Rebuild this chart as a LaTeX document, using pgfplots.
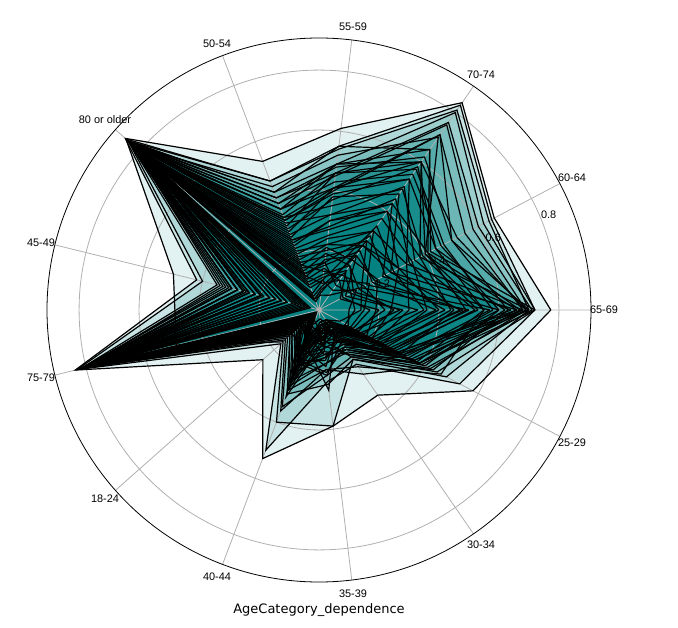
\documentclass[border=0pt]{standalone}
\usepackage{fontspec}
\setmainfont{Liberation Sans}
\newfontfamily\titlefont{DejaVu Sans}
\usepackage{pgfplots}
\usepackage{pgfplotstable}
\pgfplotsset{compat=1.18}
\usepgfplotslibrary{polar}

% grid sits above the fills and below the outlines
\pgfplotsset{layers/radar/.define layer set={axis background,pre main,axis grid,axis ticks,axis lines,main,axis tick labels,axis descriptions,axis foreground}{}}

% one row per polygon, columns follow the spokes counter-clockwise from 65-69, last repeats the first
\pgfplotstableread{
s a0 a1 a2 a3 a4 a5 a6 a7 a8 a9 a10 a11 a12 a13
1 .773 .66 .84 .61 .53 .863 .42 .837 .25 .53 .39 .345 .58 .773
2 .72 .65 .83 .55 .46 .85 .40 .83 .17 .50 .24 .22 .53 .72
3 .70 .64 .81 .54 .46 .86 .50 .49 .16 .40 .39 .20 .48 .70
4 .72 .62 .80 .49 .42 .85 .35 .82 .14 .345 .22 .19 .445 .72
5 .71 .60 .76 .46 .40 .84 .33 .81 .13 .285 .20 .26 .41 .71
6 .69 .58 .75 .45 .38 .84 .30 .82 .12 .25 .18 .17 .38 .69
7 .68 .55 .71 .41 .36 .83 .28 .81 .11 .22 .16 .15 .36 .68
8 .70 .50 .71 .40 .32 .84 .25 .80 .10 .20 .15 .14 .32 .70
9 .66 .41 .65 .55 .42 .85 .32 .82 .10 .19 .22 .13 .30 .66
10 .72 .42 .65 .49 .38 .84 .30 .81 .09 .25 .13 .12 .38 .72
11 .69 .52 .60 .49 .36 .84 .28 .81 .09 .16 .12 .18 .42 .69
12 .62 .40 .60 .46 .34 .83 .26 .80 .08 .31 .11 .11 .38 .62
13 .70 .38 .60 .41 .33 .83 .34 .80 .12 .14 .19 .10 .36 .70
14 .58 .47 .57 .46 .30 .82 .22 .79 .07 .28 .10 .19 .34 .58
15 .68 .33 .53 .39 .32 .82 .30 .80 .07 .12 .27 .09 .31 .68
16 .55 .44 .53 .41 .28 .83 .20 .78 .11 .22 .09 .13 .37 .55
17 .52 .36 .50 .32 .31 .82 .26 .79 .06 .26 .08 .08 .29 .52
18 .66 .27 .47 .38 .26 .81 .17 .80 .05 .10 .15 .16 .35 .66
19 .49 .41 .43 .32 .27 .84 .24 .78 .08 .21 .07 .07 .28 .49
20 .60 .24 .43 .30 .24 .82 .13 .79 .10 .18 .17 .11 .33 .60
21 .44 .38 .40 .27 .25 .80 .28 .78 .04 .24 .06 .14 .26 .44
22 .64 .30 .40 .30 .23 .81 .11 .79 .07 .07 .12 .06 .30 .64
23 .36 .35 .37 .25 .22 .80 .22 .78 .09 .17 .14 .05 .24 .36
24 .57 .18 .32 .22 .21 .81 .20 .80 .03 .20 .05 .12 .32 .57
25 .30 .33 .32 .24 .20 .79 .17 .78 .06 .13 .10 .09 .22 .30
26 .50 .16 .28 .20 .19 .80 .26 .79 .05 .16 .13 .04 .27 .50
27 .24 .30 .26 .22 .18 .79 .13 .78 .08 .11 .04 .10 .20 .24
28 .47 .27 .26 .18 .17 .80 .15 .79 .04 .15 .09 .08 .25 .47
29 .19 .22 .20 .21 .16 .81 .20 .78 .07 .09 .11 .13 .18 .19
30 .42 .25 .30 .16 .15 .80 .11 .79 .03 .19 .08 .07 .23 .42
31 .33 .13 .18 .19 .14 .79 .17 .78 .06 .12 .06 .11 .16 .33
32 .39 .20 .24 .15 .13 .80 .13 .79 .05 .08 .10 .06 .21 .39
33 .22 .17 .14 .13 .16 .79 .24 .78 .04 .14 .05 .09 .14 .22
34 .28 .10 .22 .17 .12 .80 .11 .79 .08 .10 .07 .05 .19 .28
35 .15 .19 .12 .14 .11 .82 .15 .78 .03 .06 .09 .08 .12 .15
36 .25 .15 .18 .12 .10 .80 .08 .79 .05 .11 .04 .04 .17 .25
37 .12 .12 .10 .16 .13 .79 .20 .80 .04 .08 .06 .10 .10 .12
38 .20 .08 .16 .11 .09 .80 .09 .78 .02 .07 .08 .04 .15 .20
39 .10 .14 .08 .10 .08 .81 .13 .79 .06 .05 .03 .07 .11 .10
40 .17 .09 .12 .09 .12 .79 .07 .78 .03 .09 .05 .05 .13 .17
41 .55 .40 .70 .52 .44 .83 .28 .81 .15 .36 .20 .23 .46 .55
42 .63 .50 .62 .48 .40 .85 .31 .80 .13 .30 .25 .20 .43 .63
43 .60 .46 .55 .43 .36 .84 .24 .82 .12 .27 .18 .16 .40 .60
44 .67 .44 .58 .37 .29 .83 .26 .80 .10 .23 .14 .18 .39 .67
45 .53 .39 .49 .35 .33 .82 .19 .79 .11 .18 .21 .15 .28 .53
46 .45 .34 .45 .28 .25 .81 .22 .81 .08 .20 .16 .12 .31 .45
47 .35 .28 .34 .10 .06 .80 .05 .79 .02 .10 .12 .09 .20 .35
48 .48 .21 .22 .08 .05 .81 .04 .78 .02 .13 .07 .06 .24 .48
49 .27 .12 .15 .07 .04 .80 .03 .79 .03 .06 .10 .08 .14 .27
50 .40 .30 .28 .06 .03 .79 .06 .78 .01 .16 .05 .12 .22 .40
51 .14 .16 .06 .05 .04 .80 .04 .79 .02 .04 .08 .04 .08 .14
}\rawdata
\pgfplotstabletranspose[colnames from=s]\radardata{\rawdata}

\definecolor{gridgray}{HTML}{B0B0B0}

\begin{document}
\begin{tikzpicture}[lab/.style={font=\fontsize{8.2}{10}\selectfont, inner sep=0pt}]
\path (-239.25pt,-238.5pt) rectangle (269.25pt,232.5pt);
\begin{polaraxis}[
  set layers=radar,
  at={(0,0)}, anchor=center,
  width=408pt, height=408pt, scale only axis,
  xmin=0, xmax=360, ymin=0, ymax=0.907,
  xtick={0,27.69,55.38,83.08,110.77,138.46,166.15,193.85,221.54,249.23,276.92,304.62,332.31},
  xticklabels={},
  ytick={0.2,0.4,0.6,0.8},
  yticklabels={},
  grid=both,
  grid style={gridgray, line width=0.6pt},
  major tick length=0pt,
  x axis line style={black, line width=0.6pt},
  y axis line style={draw=none},
  clip=false,
]
\pgfplotsinvokeforeach{1,...,51}{
  \addplot[on layer=pre main, draw=none, fill=teal, fill opacity=0.115, forget plot]
    table[x expr=\coordindex*27.6923, y index=#1] {\radardata};
  \addplot[on layer=main, black, line width=0.9pt, line join=miter, forget plot]
    table[x expr=\coordindex*27.6923, y index=#1] {\radardata};
}
\pgfplotsinvokeforeach{0.2,0.4,0.6,0.8}{
  \node[lab, xshift=6pt, yshift=2.5pt] at (axis cs:22.5,#1) {#1};
}
\end{polaraxis}
% category labels, placed as in the reference (pixel offset from centre x 0.75pt)
\node[lab] at (213.75pt,0pt) {65-69};
\node[lab] at (189.75pt,99pt) {60-64};
\node[lab] at (121.5pt,176.25pt) {70-74};
\node[lab] at (25.5pt,212.25pt) {55-59};
\node[lab] at (-76.5pt,199.5pt) {50-54};
\node[lab] at (-160.5pt,142.5pt) {80 or older};
\node[lab] at (-208.5pt,50.25pt) {45-49};
\node[lab] at (-208.5pt,-51pt) {75-79};
\node[lab] at (-160.5pt,-141.75pt) {18-24};
\node[lab] at (-76.5pt,-200.25pt) {40-44};
\node[lab] at (25.5pt,-213pt) {35-39};
\node[lab] at (121.5pt,-176.25pt) {30-34};
\node[lab] at (189.75pt,-99.75pt) {25-29};
\node[font=\titlefont\fontsize{9.75}{12}\selectfont] at (0,-225pt) {AgeCategory\_dependence};
\end{tikzpicture}
\end{document}
